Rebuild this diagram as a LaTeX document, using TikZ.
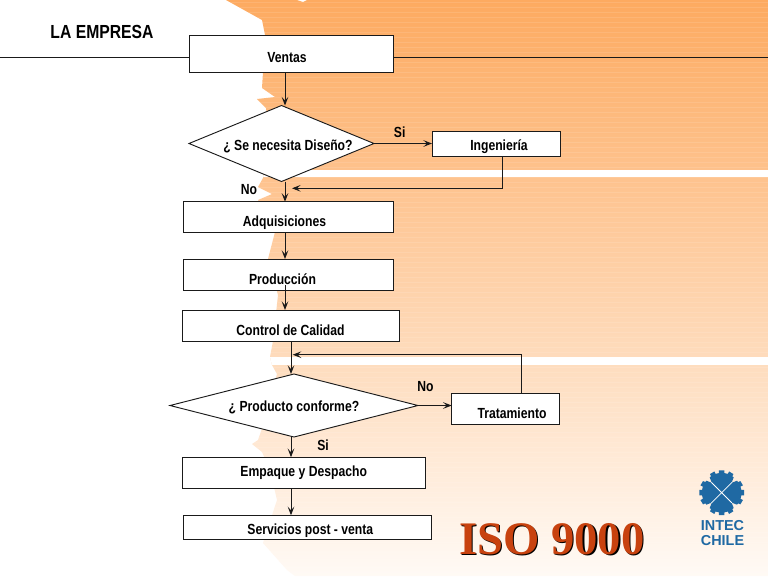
\documentclass[tikz,border=0pt]{standalone}
\usepackage{fontspec}
\setmainfont[FakeStretch=0.83]{Liberation Sans}
\newfontfamily\isofont{Liberation Serif}
\newfontfamily\intecfont{Liberation Sans}
\usetikzlibrary{shapes.geometric,arrows.meta}
\definecolor{inkc}{HTML}{1A1A1A}
\definecolor{bgtop}{HTML}{FDAA60}
\definecolor{bgmid}{HTML}{FFCB9C}
\definecolor{bgbot}{HTML}{FFFAF5}
\definecolor{isoc}{HTML}{C8420F}
\definecolor{logoc}{HTML}{1F69A3}
\def\bgshape{(226,0)--(262,20)--(265,35)--(263,72)--(262,88)--(275,97)--(257,99)--(266,108)--(270,140)--(263,178)--(258,187)--(272,194)--(258,200)--(275,232)--(268,259)--(278,295)--(273,341)--(270,357)--(272,365)--(277,374)--(265,420)--(258,440)--(252,444)--(262,452)--(270,470)--(277,500)--(263,543)--(287,570)--(295,576)--(768,576)--(768,0)--(307,0)--(303,2)--(297,0)--cycle}
\tikzset{
  x=0.75pt,y=-0.75pt,
  bx/.style 2 args={draw=inkc,fill=white,line width=0.7pt,minimum width=#1*0.75pt,minimum height=#2*0.75pt,inner sep=0pt,outer sep=0pt},
  dm/.style n args={3}{diamond,aspect=#3,draw=inkc,fill=white,line width=0.7pt,minimum width=#1*0.75pt,minimum height=#2*0.75pt,inner sep=0pt,outer sep=0pt},
  txt/.style={inner sep=0pt,anchor=base,font=\bfseries\fontsize{11pt}{12pt}\selectfont,text=black},
  ln/.style={draw=inkc,line width=0.75pt},
  arr/.style={ln,-{Stealth[length=6.5pt,width=5pt,inset=2.8pt]}},
  logoq/.style={fill=logoc,draw=none},
  inteclab/.style={inner sep=0pt,anchor=base,text=logoc,font=\intecfont\bfseries\fontsize{10.8pt}{12pt}\selectfont},
  isolab/.style={inner sep=0pt,anchor=base,font=\isofont\bfseries\fontsize{35pt}{38pt}\selectfont},
}
\begin{document}
\begin{tikzpicture}
\useasboundingbox (0,0) rectangle (768,576);
\fill[white] (0,0) rectangle (768,576);
% torn orange background
\shade[top color=bgtop,middle color=bgmid,bottom color=bgbot] \bgshape;
\begin{scope}
  \clip \bgshape;
  \foreach \yy in {2,7,...,572} \draw[white,opacity=0.11,line width=0.75pt] (220,\yy) -- (768,\yy);
  \fill[white] (220,169.5) rectangle (768,176.5);
  \fill[white] (220,357) rectangle (768,365);
\end{scope}
% helper coordinates
\coordinate (leftend) at (0,57.5);
\coordinate (rightend) at (768,57.5);
\coordinate (spinea) at (285,0);
\coordinate (spineb) at (291,0);
\coordinate (prodstart) at (285,285);
\coordinate (ingcorner) at (502.3,188.3);
\coordinate (ingtip) at (292,188.3);
\coordinate (tracorner) at (521.7,354.7);
\coordinate (tratip) at (292.7,354.7);
% boxes
\node[bx={204}{37}] (ventas) at (291,53.5) {};
\node[dm={185}{76}{2.43}] (disenio) at (281.5,143.5) {};
\node[bx={128}{25}] (ing) at (496,143.5) {};
\node[bx={210}{30.5}] (adq) at (288,217) {};
\node[bx={210}{31}] (prod) at (288,274.5) {};
\node[bx={216.5}{31}] (ctrl) at (291.2,325.5) {};
\node[dm={248}{63}{3.94}] (conforme) at (294,405.5) {};
\node[bx={108}{31}] (trat) at (505.7,408.7) {};
\node[bx={242.5}{31}] (emp) at (304,472.7) {};
\node[bx={248.5}{24.5}] (serv) at (307.3,527.5) {};
% connectors
\draw[ln] (leftend) -- (ventas.west |- leftend);
\draw[ln] (ventas.east |- rightend) -- (rightend);
\draw[arr] (ventas.south -| spinea) -- (spinea |- disenio.north);
\draw[arr] (disenio.east) -- (ing.west);
\draw[arr] (ing.south -| ingcorner) -- (ingcorner) -- (ingtip);
\draw[arr] (spinea |- disenio.south) -- (adq.north -| spinea);
\draw[arr] (adq.south -| spinea) -- (prod.north -| spinea);
\draw[arr] (prodstart) -- (ctrl.north -| prodstart);
\draw[arr] (ctrl.south -| spineb) -- (spineb |- conforme.north);
\draw[arr] (conforme.east) -- (conforme.east -| trat.west);
\draw[arr] (trat.north -| tracorner) -- (tracorner) -- (tratip);
\draw[arr] (spineb |- conforme.south) -- (emp.north -| spineb);
\draw[arr] (emp.south -| spineb) -- (serv.north -| spineb);
% texts
\node[txt,font=\bfseries\fontsize{14.2pt}{15pt}\selectfont] (title) at (102,38.3) {LA EMPRESA};
\node[txt] (tventas) at (287,62.3) {Ventas};
\node[txt] (tdis) at (288,150) {¿ Se necesita Diseño?};
\node[txt] (ting) at (499,150) {Ingeniería};
\node[txt] (tadq) at (284.5,226) {Adquisiciones};
\node[txt] (tprod) at (282.5,284) {Producción};
\node[txt] (tctrl) at (290.5,335) {Control de Calidad};
\node[txt] (tconf) at (294,411.7) {¿ Producto conforme?};
\node[txt] (ttrat) at (512,418) {Tratamiento};
\node[txt] (temp) at (303.7,476) {Empaque y Despacho};
\node[txt] (tserv) at (310.3,534) {Servicios post - venta};
\node[txt] (lsi) at (399.7,137) {Si};
\node[txt] (lno) at (249,194) {No};
\node[txt] (lno2) at (425.5,391.7) {No};
\node[txt] (lsi2) at (323,450) {Si};
% ISO 9000
\node[isolab,text=black] (isoshadow) at (553.3,555.6) {ISO 9000};
\node[isolab,text=isoc] (iso) at (551.8,554.2) {ISO 9000};
% logo
\foreach \r in {0,90,180,270}{
  \fill[logoq,shift={(721.7,492.7)},rotate=\r]
    (0,0)--(-45:14)--(-38:19.5)--(-33:19.5)--(-32:22)--(-19:22.5)--(-18:19.8)--(-8:19.8)--(-7:22.5)--(7:22.5)--(8:19.8)--(18:19.8)--(19:22.5)--(32:22)--(33:19.5)--(38:19.5)--(45:14)--cycle;
}
\draw[white,line width=0.6pt,shift={(721.7,492.7)}] (45:14.5) -- (225:14.5) (135:14.5) -- (315:14.5);
\node[inteclab] (intec) at (722.5,530.7) {INTEC};
\node[inteclab] (chile) at (722.5,545.3) {CHILE};
\end{tikzpicture}
\end{document}
